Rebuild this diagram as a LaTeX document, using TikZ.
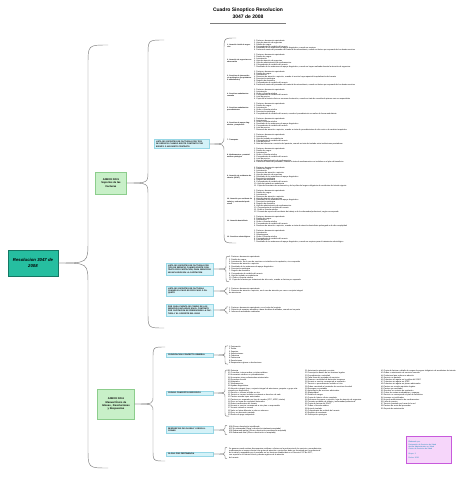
\documentclass[tikz,border=0pt]{standalone}
\usepackage{fontspec}
\setmainfont{Liberation Sans}
\usetikzlibrary{calc}
\definecolor{rootc}{RGB}{38,190,160}
\definecolor{rootbd}{RGB}{20,120,100}
\definecolor{anfill}{RGB}{200,240,200}
\definecolor{anbd}{RGB}{140,205,140}
\definecolor{cyfill}{RGB}{212,242,248}
\definecolor{cybd}{RGB}{150,215,230}
\definecolor{brcol}{RGB}{125,125,125}
\definecolor{pufill}{RGB}{246,214,250}
\definecolor{pubd}{RGB}{200,90,220}
\definecolor{notetxt}{RGB}{0,130,175}
\tikzset{
  brc/.style={draw=brcol, line width=0.45pt},
  titlenode/.style={align=center, font=\fontsize{5}{7}\selectfont\bfseries, inner sep=0pt},
  rootbox/.style={draw=rootbd, fill=rootc, line width=0.5pt, minimum width=50pt, minimum height=26pt, align=center, font=\fontsize{4.3}{5.3}\selectfont\bfseries\itshape, inner sep=1pt},
  anexo/.style={draw=anbd, fill=anfill, line width=0.4pt, align=center, font=\fontsize{2.6}{3.2}\selectfont\bfseries, inner sep=1.5pt},
  cyanbox/.style={draw=cybd, fill=cyfill, line width=0.4pt, text width=#1, align=left, font=\fontsize{2}{2.4}\selectfont\bfseries, inner sep=1.5pt},
  catlab/.style={anchor=west, text width=25pt, align=left, font=\fontsize{1.7}{2.1}\selectfont\bfseries, inner sep=0pt},
  itemlist/.style={align=left, font=\fontsize{1.9}{1.85}\selectfont, inner sep=0pt},
  sublist/.style={align=left, font=\fontsize{1.9}{2.3}\selectfont, inner sep=0pt},
  collist/.style={anchor=north west, text width=72pt, align=left, font=\fontsize{1.9}{2.2}\selectfont, inner sep=0pt},
  notebox/.style={draw=pubd, fill=pufill, line width=0.5pt, minimum width=45pt, minimum height=27pt, text width=41pt, align=left, text=notetxt, font=\fontsize{1.8}{2.3}\selectfont, inner sep=2pt},
}
% brace: #1 parent node, #2 x of vertical, #3 top y-source, #4 bottom y-source, #5 tip radius, #6 hook
\newcommand\mybrace[6]{%
  \coordinate (tp) at (#2,0 |- #1.east);
  \coordinate (tt) at (#2,0 |- #3);
  \coordinate (tb) at (#2,0 |- #4);
  \draw[brc] (#1.east) .. controls (tp) .. ($(tp)+(0,-#5)$) -- ($(tt)+(0,#6)$) .. controls (tt) .. ($(tt)+(#6,0)$);
  \draw[brc] (#1.east) .. controls (tp) .. ($(tp)+(0,#5)$) -- ($(tb)+(0,-#6)$) .. controls (tb) .. ($(tb)+(#6,0)$);
}
\begin{document}
\begin{tikzpicture}[x=1pt,y=-1pt]
\useasboundingbox (0,0) rectangle (474,484);
\fill[white] (0,0) rectangle (474,484);

% title
\node[titlenode] (title) at (248,13) {Cuadro Sinoptico Resolucion\\3047 de 2008};
\draw[brcol, line width=0.4pt] (210,23) -- (286,23);

% root and annexes
\node[rootbox] (root) at (33,263) {Resolucion 3047 de\\2008};
\node[anexo, minimum width=31pt, minimum height=22pt] (an5) at (111,183) {ANEXO NO.5\\Soportes de las\\Facturas};
\node[anexo, minimum width=37pt, minimum height=30pt] (an6) at (116,404) {ANEXO NO.6\\Manual Único de\\Glosas , Devoluciones\\y Respuestas};

% annex 5 boxes
\node[cyanbox=52pt] (ba) at (182,144) {LISTA DE SOPORTES DE FACTURAS POR TIPO DE SERVICIO CUANDO EXISTE CONTRATO POR EVENTO O NO EXISTE CONTRATO};
\node[cyanbox=44pt] (bb) at (190,269) {LISTA DE SOPORTES DE FACTURAS POR TIPO DE SERVICIO CUANDO EXISTE CONTRATO POR CAPITACIÓN, PARA SERVICIOS NO INCLUIDOS EN LA CAPITACIÓN};
\node[cyanbox=44pt] (bc) at (190,291) {LISTA DE SOPORTES DE FACTURAS CUANDO EL PAGO ES POR CASO O PAQUETE};
\node[cyanbox=44pt] (bd) at (190,310) {POR CADA CUENTA DE COBRO DE LOS SERVICIOS INCLUIDOS EN EL CONTRATO POR CAPITACIÓN SE PRESENTARÁ LA FACTURA Y EL SOPORTE DEL PAGO};

% annex 6 boxes
\node[cyanbox=44pt] (gA) at (190,355) {CODIFICACION CONCEPTO GENERAL};
\node[cyanbox=44pt] (gB) at (190,393) {CODIGO CONCEPTO ESPECIFICO};
\node[cyanbox=44pt] (gC) at (190,430) {RESPUESTAS DE GLOSAS Y DEVOLUCIONES};
\node[cyanbox=44pt] (gD) at (190,454) {GLOSA POR PERTINENCIA};

% category lists (annex 5, box a)
\node[itemlist, anchor=north west] (L1) at (254,40) {1. Factura o documento equivalente\\2. Hoja de atención de urgencias\\3. Detalle de cargos\\4. Comprobante de recibido del usuario\\5. Resultado de los exámenes de apoyo diagnóstico, cuando se requiera\\6. Factura de venta del proveedor del material de osteosíntesis, cuando se facture por separado de los demás servicios};
\node[catlab] (C1) at (227,0 |- L1.west) {1. Atención inicial de urgencias};

\node[itemlist, anchor=north west] (L2) at ($(L1.south west)+(0,3)$) {1. Factura o documento equivalente\\2. Detalle de cargos\\3. Autorización\\4. Hoja de atención de urgencias\\5. Hoja de administración de medicamentos\\6. Comprobante de recibido del usuario\\7. Resultado de los exámenes de apoyo diagnóstico, cuando se hayan realizado durante la atención de urgencias};
\node[catlab] (C2) at (227,0 |- L2.west) {2. Atención de urgencias con observación};

\node[itemlist, anchor=north west] (L3) at ($(L2.south west)+(0,3)$) {1. Factura o documento equivalente\\2. Detalle de cargos\\3. Autorización\\4. Resumen de atención o epicrisis, cuando el servicio haya requerido hospitalización del usuario\\5. Descripción quirúrgica\\6. Registro de anestesia\\7. Comprobante de recibido del usuario\\8. Factura de venta del proveedor del material de osteosíntesis, cuando se facture por separado de los demás servicios};
\node[catlab] (C3) at (227,0 |- L3.west) {3. Servicios de internación y/o quirúrgicos (hospitalarios o ambulatorios)};

\node[itemlist, anchor=north west] (L4) at ($(L3.south west)+(0,3)$) {1. Factura o documento equivalente\\2. Autorización\\3. Orden o fórmula médica\\4. Comprobante de recibido del usuario\\5. Lista de precios\\6. Copia de la historia clínica o resumen de atención, cuando se trate de consulta de primera vez con especialista};
\node[catlab] (C4) at (227,0 |- L4.west) {4. Servicios ambulatorios: consulta};

\node[itemlist, anchor=north west] (L5) at ($(L4.south west)+(0,3)$) {1. Factura o documento equivalente\\2. Detalle de cargos\\3. Autorización\\4. Orden o fórmula médica\\5. Descripción quirúrgica\\6. Comprobante de recibido del usuario, cuando el procedimiento se realice de forma ambulatoria};
\node[catlab] (C5) at (227,0 |- L5.west) {5. Servicios ambulatorios: procedimientos};

\node[itemlist, anchor=north west] (L6) at ($(L5.south west)+(0,3)$) {1. Factura o documento equivalente\\2. Autorización\\3. Orden o fórmula médica\\4. Resultado de los exámenes de apoyo diagnóstico\\5. Comprobante de recibido del usuario\\6. Lista de precios\\7. Resumen de atención o epicrisis, cuando se trate de procedimientos de alto costo o de carácter terapéutico};
\node[catlab] (C6) at (227,0 |- L6.west) {6. Servicios de apoyo diagnóstico y terapéutico};

\node[itemlist, anchor=north west] (L7) at ($(L6.south west)+(0,3)$) {1. Factura o documento equivalente\\2. Autorización\\3. Hoja de traslado en ambulancia\\4. Comprobante de recibido del usuario\\5. Lista de precios\\6. Nota de referencia o remisión del paciente, cuando se trate de traslado entre instituciones prestadoras};
\node[catlab] (C7) at (227,0 |- L7.west) {7. Transporte};

\node[itemlist, anchor=north west] (L8) at ($(L7.south west)+(0,3)$) {1. Factura o documento equivalente\\2. Detalle de cargos\\3. Autorización\\4. Orden o fórmula médica\\5. Comprobante de recibido del usuario\\6. Lista de precios\\7. Hoja de administración de medicamentos\\8. Factura de venta del proveedor, cuando se trate de medicamentos no incluidos en el plan de beneficios};
\node[catlab] (C8) at (227,0 |- L8.west) {8. Medicamentos y material médico quirúrgico};

\node[itemlist, anchor=north west] (L9) at ($(L8.south west)+(0,3)$) {1. Factura o documento equivalente\\2. Detalle de cargos\\3. Autorización\\4. Resumen de atención o epicrisis\\5. Hoja de atención de urgencias\\6. Resultado de los exámenes de apoyo diagnóstico\\7. Descripción quirúrgica\\8. Registro de anestesia\\9. Comprobante de recibido del usuario\\10. Hoja de traslado en ambulancia\\11. Copia del formulario de reclamación y de la póliza del seguro obligatorio de accidentes de tránsito vigente};
\node[catlab] (C9) at (227,0 |- L9.west) {9. Atención de accidentes de tránsito (SOAT)};

\node[itemlist, anchor=north west] (L10) at ($(L9.south west)+(0,3)$) {1. Factura o documento equivalente\\2. Detalle de cargos\\3. Autorización\\4. Resumen de atención o epicrisis\\5. Hoja de atención de urgencias\\6. Resultado de los exámenes de apoyo diagnóstico\\7. Descripción quirúrgica\\8. Registro de anestesia\\9. Hoja de administración de medicamentos\\10. Comprobante de recibido del usuario\\11. Orden o fórmula médica\\12. Formato de reporte del accidente de trabajo o de la enfermedad profesional, según corresponda};
\node[catlab] (C10) at (227,0 |- L10.west) {10. Atención por accidente de trabajo y enfermedad profesional};

\node[itemlist, anchor=north west] (L11) at ($(L10.south west)+(0,3)$) {1. Factura o documento equivalente\\2. Detalle de cargos\\3. Autorización\\4. Orden o fórmula médica\\5. Comprobante de recibido del usuario\\6. Resumen de atención o epicrisis, cuando se trate de atención domiciliaria prolongada o de alta complejidad};
\node[catlab] (C11) at (227,0 |- L11.west) {11. Atención domiciliaria};

\node[itemlist, anchor=north west] (L12) at ($(L11.south west)+(0,3)$) {1. Factura o documento equivalente\\2. Autorización\\3. Odontograma\\4. Orden o fórmula médica\\5. Comprobante de recibido del usuario\\6. Lista de precios\\7. Resultado de los exámenes de apoyo diagnóstico, cuando se requiera para el tratamiento odontológico};
\node[catlab] (C12) at (227,0 |- L12.west) {12. Servicios odontológicos};

% lists of boxes b, c, d
\node[sublist, anchor=west] (Lb) at (229,269) {1. Factura o documento equivalente\\2. Detalle de cargos\\3. Autorización, en el caso de servicios no incluidos en la capitación, si es requerida\\4. Resumen de atención o epicrisis\\5. Resultado de los exámenes de apoyo diagnóstico\\6. Descripción quirúrgica\\7. Registro de anestesia\\8. Comprobante de recibido del usuario\\9. Hoja de traslado en ambulancia\\10. Orden o fórmula médica\\11. Copia de la factura por tratamiento de alto costo, cuando se facture por separado};
\node[sublist, anchor=west] (Lc) at (229,291) {1. Factura o documento equivalente\\2. Resumen de atención o epicrisis, en el caso de atención por caso o conjunto integral\\de atenciones};
\node[sublist, anchor=west] (Ld) at (229,310) {1. Factura o documento equivalente, con el valor del contrato\\2. Relación de usuarios atendidos o base de datos de afiliados, cuando así se pacte\\3. Informe de actividades realizadas};

% annex 6 lists
\node[sublist, anchor=west] (LA) at (229,355) {1 Facturación\\2 Tarifas\\3 Soportes\\4 Autorizaciones\\5 Cobertura\\6 Pertinencia\\8 Devoluciones\\9 Respuestas a glosas o devoluciones};
\node[collist] (LB1) at (228,370) {01 Estancia\\02 Consultas, interconsultas y visitas médicas\\03 Honorarios médicos en procedimientos\\04 Honorarios otros profesionales asistenciales\\05 Derechos de sala\\06 Materiales\\07 Medicamentos\\08 Ayudas diagnósticas\\09 Atención integral (caso, conjunto integral de atenciones, paquete o grupo relacionado por diagnóstico)\\10 Servicio o insumo incluido en otro\\11 Servicio o insumo incluido en estancia o derechos de sala\\12 Factura excede topes autorizados\\13 Facturar por separado por tipo de recobro (CTC, ATEP, tutelas)\\14 Error en suma de conceptos facturados\\15 Datos insuficientes del usuario\\16 Usuario o servicio corresponde a otro plan o responsable\\17 Usuario retirado o moroso\\18 Valor en letras diferente a valor en números\\19 Error en descuento pactado\\20 Recibo de pago compartido};
\node[collist] (LB2) at (305,370) {21 Autorización principal no existe\\22 Prescripción dentro de los términos legales\\23 Procedimiento o actividad\\24 Falta firma del prestador de servicios\\25 Examen o actividad de detección temprana\\26 Usuario o servicio corresponde a capitación\\27 Servicio o procedimiento incluido en otro\\28 Orden cancelada al prestador de servicios de salud\\29 Recargos no pactados\\30 Autorización de servicios adicionales\\31 Bilateralidad\\32 Detalle de cargos\\33 Copia de historia clínica completa\\34 Resumen de egreso o epicrisis, hoja de atención de urgencias\\35 Formato accidente de trabajo y enfermedad profesional\\36 Copia de factura del SOAT\\37 Orden o fórmula médica\\38 Hoja de traslado\\39 Comprobante de recibido del usuario\\40 Registro de anestesia\\41 Descripción quirúrgica};
\node[collist, text width=76pt] (LB3) at (381,370) {42 Copia de factura o detalle de cargos de seguro obligatorio de accidentes de tránsito\\43 Orden o autorización de servicios vencida\\44 Profesional que ordena no adscrito\\45 Servicio no pactado\\46 Cobertura sin agotar en la póliza del SOAT\\47 Cobertura sin agotar en ATEP\\48 Cobertura sin agotar en planes adicionales\\49 Factura no cumple requisitos legales\\50 Factura ya cancelada\\51 Recobro en contrato de capitación\\52 Cobro de cuotas moderadoras y copagos\\53 Servicio no corresponde al plan de beneficios\\54 Insumos no justificados\\55 Hoja de administración de medicamentos\\56 Lista de precios\\57 Servicio prestado por fuera de la red\\58 Factura de venta del proveedor\\59 Soporte de autorización};
\node[sublist, anchor=west] (LC) at (229,430) {996 Glosa o devolución injustificada\\997 No subsanada (Glosa o devolución totalmente aceptada)\\998 Subsanada parcial (Glosa o devolución parcialmente aceptada)\\999 Subsanada total (Glosa o devolución no aceptada)};
\node[sublist, anchor=west] (LD) at (229,453) {Se genera cuando existen discrepancias médicas o clínicas en la pertinencia de los servicios, procedimientos,\\medicamentos o insumos frente a las guías de atención o protocolos; debe ser formulada por un profesional\\de la salud y respondida por el prestador en los términos establecidos en el Decreto 4747 de 2007,\\con soporte en la historia clínica y demás registros de la atención\\del usuario};

% note box
\node[notebox] (note) at (429,450) {Elaborado por:\\Facturación de Servicios de Salud\\Auxiliar Administrativo en Salud\\Centro de Servicios de Salud\\[2pt]Grupo: 2\\[2pt]Fecha: 2015};

% braces
\mybrace{root}{88}{0,45}{0,468}{22}{20}
\mybrace{an5}{148}{0,40}{0,328}{12}{16}
\mybrace{an6}{153}{0,347}{0,461}{8}{12}
\mybrace{ba}{224}{0,38}{0,243}{8}{12}
\mybrace{bb}{226}{Lb.north}{Lb.south}{3}{3}
\mybrace{bc}{226}{Lc.north}{Lc.south}{2}{2}
\mybrace{bd}{226}{Ld.north}{Ld.south}{2}{2}
\mybrace{gA}{225}{LA.north}{LA.south}{3}{3}
\mybrace{gB}{225}{LB1.north}{LB1.south}{4}{4}
\mybrace{gC}{225}{LC.north}{LC.south}{2}{2}
\mybrace{gD}{225}{LD.north}{LD.south}{2}{2}
\end{tikzpicture}
\end{document}
